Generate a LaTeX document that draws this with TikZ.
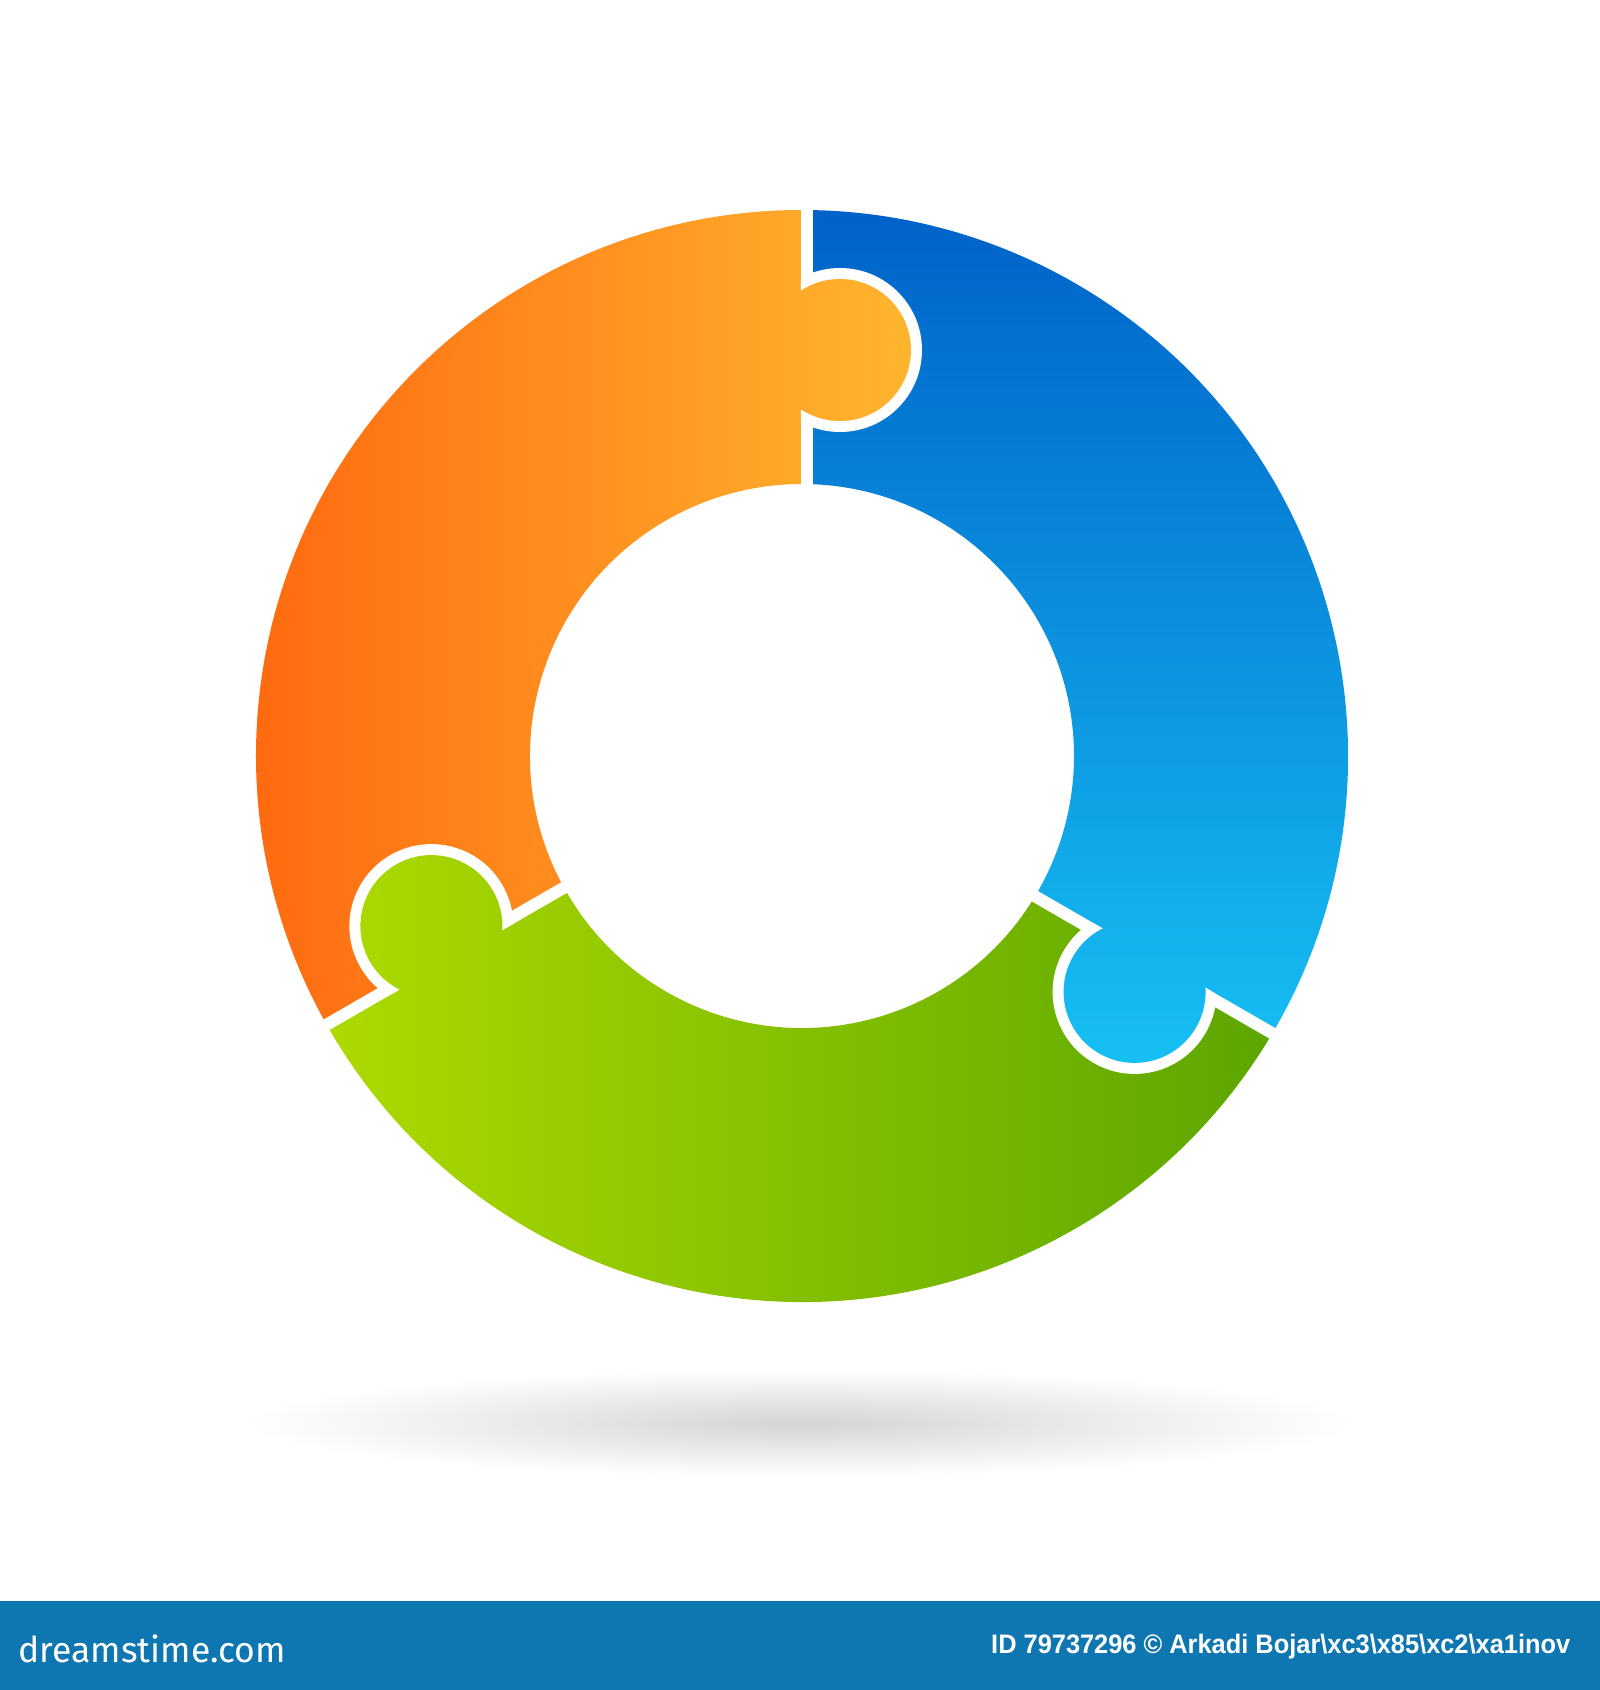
\documentclass[tikz,border=0pt]{standalone}
\usepackage{fontspec}
\setmainfont{Liberation Sans}
\newfontfamily\logofont{Fira Sans}
\definecolor{orangeL}{HTML}{FF6A10}
\definecolor{orangeR}{HTML}{FFB62F}
\definecolor{blueT}{HTML}{0062C8}
\definecolor{blueB}{HTML}{17C0F4}
\definecolor{greenL}{HTML}{AEDA00}
\definecolor{greenR}{HTML}{5CA600}
\definecolor{banner}{HTML}{0E76B0}
\definecolor{shadowgray}{HTML}{D3D4D6}

\begin{document}
\begin{tikzpicture}[x=0.01cm, y=0.01cm,
    gap/.style={fill=white},
    orangepiece/.style={left color=orangeL, right color=orangeR},
    bluepiece/.style={top color=blueT, bottom color=blueB},
    greenpiece/.style={left color=greenL, right color=greenR}]
    \useasboundingbox (-802,-934) rectangle (798,756);

    \shade[inner color=shadowgray, outer color=white] (-2,-667) ellipse[x radius=555, y radius=54];

    \begin{scope}
        \clip (90:546) arc[start angle=90, end angle=210, radius=546] -- (210:272) arc[start angle=210, end angle=90, radius=272] -- cycle;
        \shade[orangepiece] (-546,-300) rectangle (115,546);
    \end{scope}
    \begin{scope}
        \clip (210:546) arc[start angle=210, end angle=330, radius=546] -- (330:272) arc[start angle=330, end angle=210, radius=272] -- cycle;
        \shade[greenpiece] (-485,-546) rectangle (470,-90);
    \end{scope}
    \begin{scope}
        \clip (-30:546) arc[start angle=-30, end angle=90, radius=546] -- (90:272) arc[start angle=90, end angle=-30, radius=272] -- cycle;
        \shade[bluepiece] (-5,-315) rectangle (546,546);
    \end{scope}

    \fill[gap, rotate=90] (255,-11) rectangle (560,1);
    \begin{scope}
        \clip[rotate=90] (250,-200) rectangle (560,1);
        \fill[gap, rotate=90] (406,-38) circle[radius=82];
    \end{scope}
    \begin{scope}
        \clip[rotate=90] (406,-38) circle[radius=71];
        \shade[orangepiece] (-546,-300) rectangle (115,546);
    \end{scope}

    \fill[gap, rotate=210] (255,-11) rectangle (560,1);
    \begin{scope}
        \clip[rotate=210] (250,-200) rectangle (560,1);
        \fill[gap, rotate=210] (406,-38) circle[radius=82];
    \end{scope}
    \begin{scope}
        \clip[rotate=210] (406,-38) circle[radius=71];
        \shade[greenpiece] (-485,-546) rectangle (470,-90);
    \end{scope}

    \fill[gap, rotate=330] (255,-11) rectangle (560,1);
    \begin{scope}
        \clip[rotate=330] (250,-200) rectangle (560,1);
        \fill[gap, rotate=330] (406,-38) circle[radius=82];
    \end{scope}
    \begin{scope}
        \clip[rotate=330] (406,-38) circle[radius=71];
        \shade[bluepiece] (-5,-315) rectangle (546,546);
    \end{scope}

    \fill[banner] (-802,-845) rectangle (798,-934);
    \node[anchor=base west, text=white, inner sep=0, font=\logofont\fontsize{10.1}{12}\selectfont] (logo) at (-784,-906) {dreamstime.com};
    \node[anchor=base east, text=white, inner sep=0, font=\bfseries\fontsize{7.6}{9}\selectfont] (credit) at (769,-897) {\scalebox{0.95}[1]{ID 79737296 © Arkadi Bojar\textbackslash xc3\textbackslash x85\textbackslash xc2\textbackslash xa1inov}};
\end{tikzpicture}
\end{document}
